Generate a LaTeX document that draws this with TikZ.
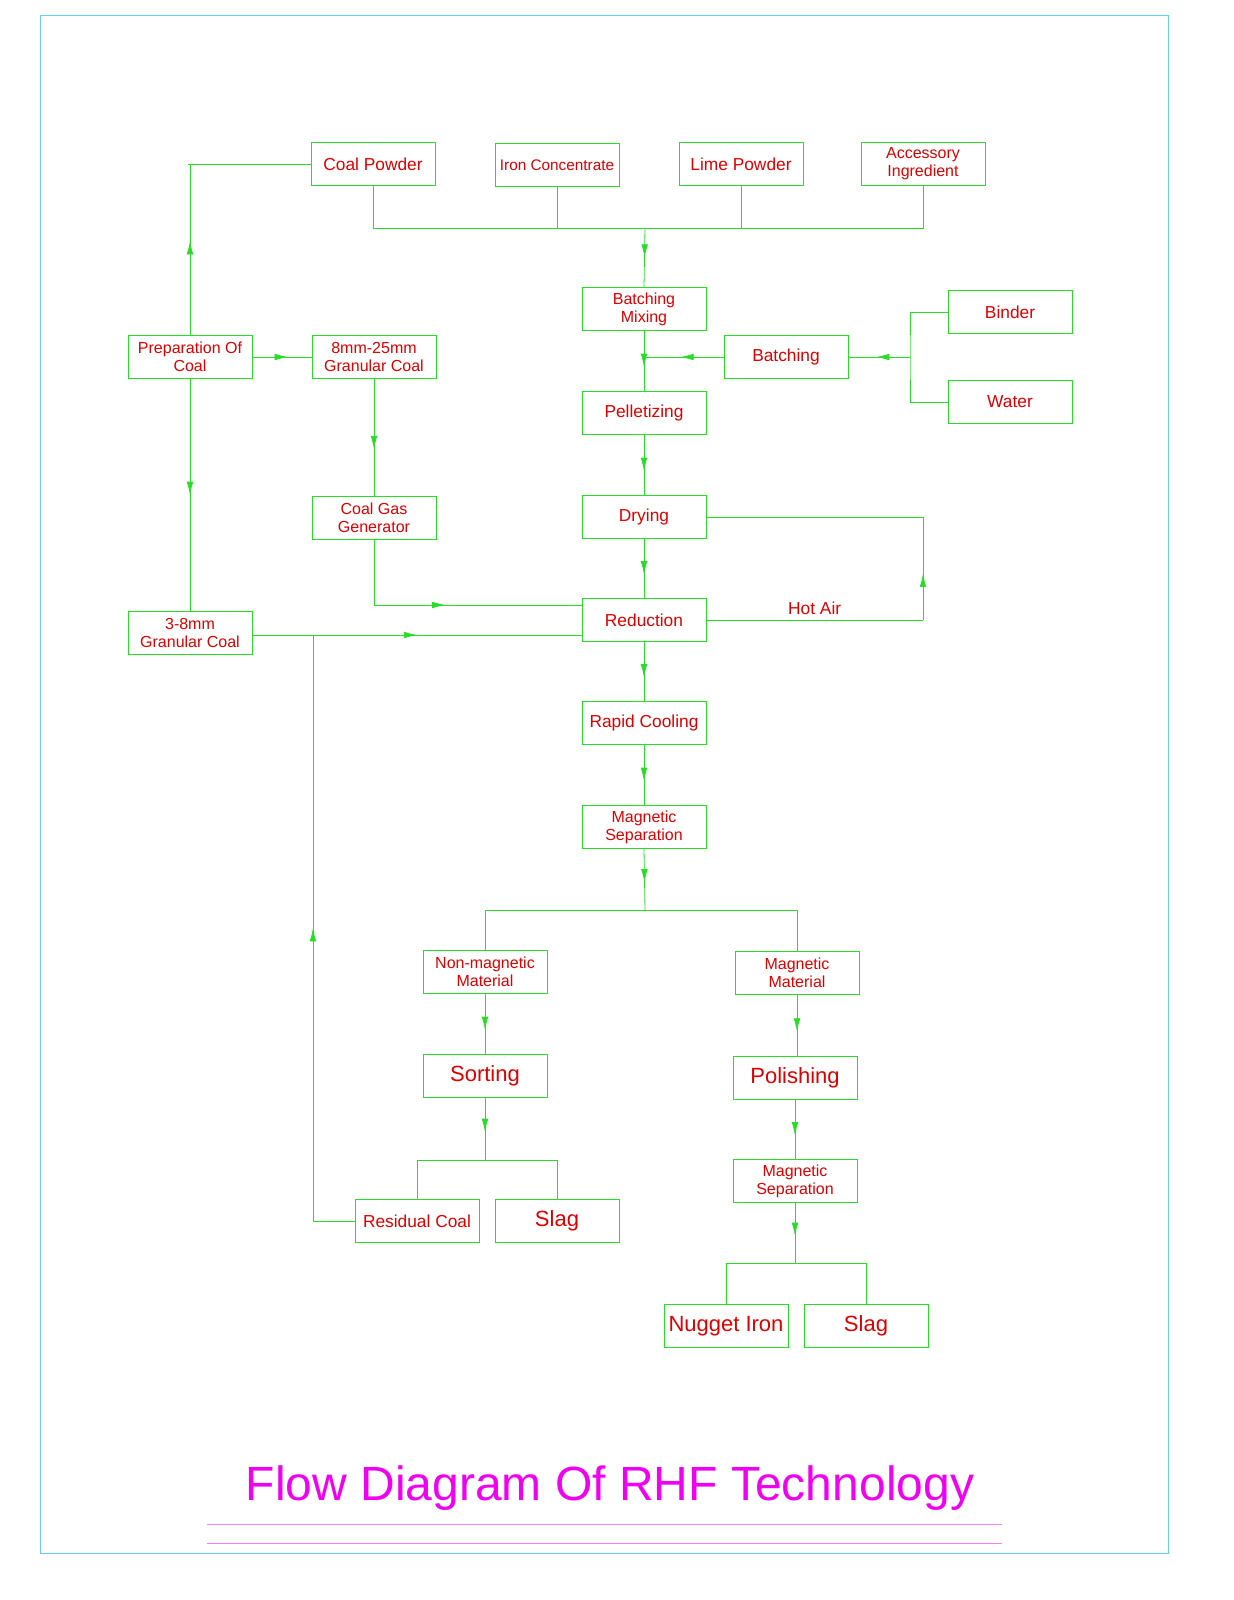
\documentclass[tikz,border=0pt]{standalone}
\usepackage{fontspec}
\setmainfont{Liberation Sans}
\usetikzlibrary{arrows.meta,decorations.markings}
\definecolor{gr}{RGB}{40,220,40}
\definecolor{rd}{RGB}{220,0,0}
\definecolor{mg}{RGB}{240,0,240}
\begin{document}
\begin{tikzpicture}[x=0.75pt,y=-0.75pt,
 box/.style={draw=gr,line width=0.6pt,minimum width=93pt,minimum height=32pt,inner sep=0pt,align=center,text=rd,font=\fontsize{13}{13}\selectfont},
 two/.style={font=\fontsize{12}{13.5}\selectfont},
 big/.style={font=\fontsize{16.5}{16.5}\selectfont},
 ln/.style={draw=gr,line width=0.6pt},
 ma/.style={postaction=decorate,decoration={markings,mark=at position #1 with {\arrow{Latex[length=10pt,width=5pt]}}}}]
\useasboundingbox (0,0) rectangle (1234,1600);
\draw[cyan!60,line width=0.6pt] (40,15) rectangle (1168,1553);
\node[box] (cp) at (373,164) {Coal Powder};
\node[box,font=\fontsize{11.5}{11.5}\selectfont] (ic) at (557,165) {Iron Concentrate};
\node[box] (lp) at (741,164) {Lime Powder};
\node[box,two] (ai) at (923,164) {Accessory\\Ingredient};
\node[box,two] (bm) at (644,309) {Batching\\Mixing};
\node[box] (bi) at (1010,312) {Binder};
\node[box] (ba) at (786,357) {Batching};
\node[box] (wa) at (1010,402) {Water};
\node[box] (pe) at (644,413) {Pelletizing};
\node[box] (dr) at (644,517) {Drying};
\node[box] (re) at (644,620) {Reduction};
\node[box] (rc) at (644,723) {Rapid Cooling};
\node[box,two] (ms) at (644,827) {Magnetic\\Separation};
\node[box,two] (pc) at (190,357) {Preparation Of\\Coal};
\node[box,two] (gc) at (374,357) {8mm-25mm\\Granular Coal};
\node[box,two] (cg) at (374,518) {Coal Gas\\Generator};
\node[box,two] (sg) at (190,633) {3-8mm\\Granular Coal};
\node[box,two] (nm) at (485,972) {Non-magnetic\\Material};
\node[box,two] (mm) at (797,973) {Magnetic\\Material};
\node[box,big] (so) at (485,1076) {Sorting};
\node[box,big] (po) at (795,1078) {Polishing};
\node[box,two] (m2) at (795,1181) {Magnetic\\Separation};
\node[box] (rs) at (417,1221) {Residual Coal};
\node[box,big] (s1) at (557,1221) {Slag};
\node[box,big] (ni) at (726,1326) {Nugget Iron};
\node[box,big] (s2) at (866,1326) {Slag};
% top bus
\coordinate (tb) at (645,228);
\draw[ln] (cp.south) |- (ai.south |- tb) -- (ai.south);
\draw[ln] (ic.south) -- (ic.south |- tb);
\draw[ln] (lp.south) -- (lp.south |- tb);
\draw[ln,ma=0.5] (tb) -- (bm.north);
\draw[ln,ma=0.6] (bm.south) -- (pe.north);
\coordinate (bj) at (645,357);
\draw[ln,ma=0.55] (ba.west) -- (bj);
\coordinate (br) at (910,357);
\draw[ln] (bi.west) -| (br) |- (wa.west);
\draw[ln,ma=0.55] (br) -- (ba.east);
\draw[ln,ma=0.6] (pe.south) -- (dr.north);
\draw[ln,ma=0.6] (dr.south) -- (re.north);
\draw[ln,ma=0.6] (re.south) -- (rc.north);
\draw[ln,ma=0.6] (rc.south) -- (ms.north);
\coordinate (mb) at (645,910);
\draw[ln,ma=0.55] (ms.south) -- (mb);
\draw[ln] (nm.north) |- (mb) -| (mm.north);
% hot air
\coordinate (hx) at (923,0);
\draw[ln] (dr.east) -- (dr.east -| hx);
\draw[ln,ma=0.45] (re.east -| hx) -- (dr.east -| hx);
\draw[ln] (re.east) -- (re.east -| hx) node[pos=0.5,above,text=rd,font=\fontsize{13}{13}\selectfont] {Hot Air};
% coal
\coordinate (cx) at (188,0);
\draw[ln] (cp.west) -- (cp.west -| cx);
\draw[ln,ma=0.55] (pc.north) -- (cp.west -| pc.north);
\draw[ln,ma=0.6] (pc.east) -- (gc.west);
\draw[ln,ma=0.5] (pc.south) -- (sg.north);
\draw[ln,ma=0.6] (gc.south) -- (cg.north);
\coordinate (c2) at (582,605);
\draw[ln,ma=0.5] (cg.south) |- (c2);
\coordinate (c3) at (582,635);
\draw[ln,ma=0.5] (sg.east |- c3) -- (c3);
\coordinate (lx) at (313,0);
\draw[ln] (rs.west) -- (rs.west -| lx);
\draw[ln,ma=0.5] (rs.west -| lx) -- (c3 -| lx);
% bottom
\draw[ln,ma=0.6] (nm.south) -- (so.north);
\coordinate (sb) at (487,1160);
\draw[ln,ma=0.55] (so.south) -- (so.south |- sb);
\draw[ln] (rs.north) |- (sb) -| (s1.north);
\draw[ln,ma=0.6] (mm.south) -- (mm.south |- po.north);
\draw[ln,ma=0.6] (po.south) -- (m2.north);
\coordinate (pb) at (795,1263);
\draw[ln,ma=0.55] (m2.south) -- (pb);
\draw[ln] (ni.north) |- (pb) -| (s2.north);
% title
\node[text=mg,font=\fontsize{36}{36}\selectfont] (title) at (610,1488) {Flow Diagram Of RHF Technology};
\draw[mg!50,line width=0.6pt] (207,1524) -- (1002,1524);
\draw[mg!50,line width=0.6pt] (207,1543) -- (1002,1543);
\end{tikzpicture}
\end{document}
